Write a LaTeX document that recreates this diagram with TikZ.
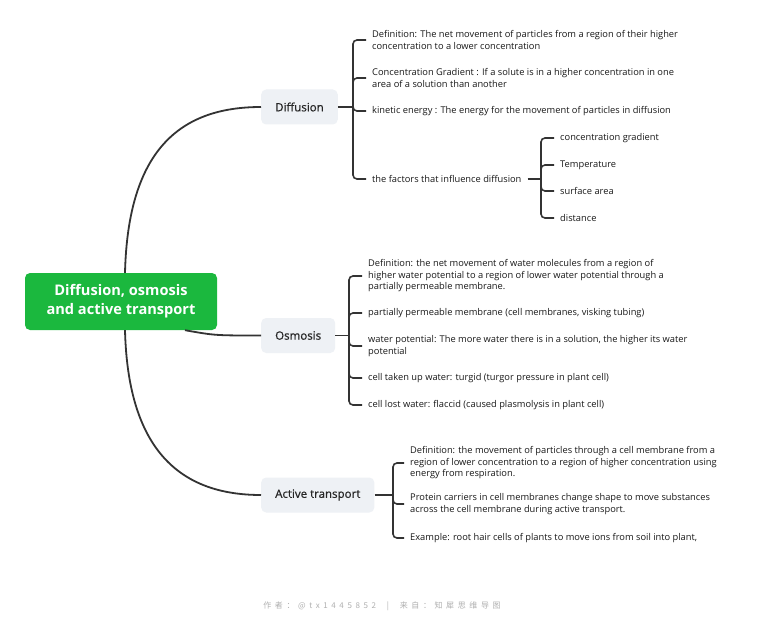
\documentclass[tikz,border=0pt]{standalone}
\usepackage{fontspec}
\setmainfont{Open Sans}
\newfontfamily\topicfont[FakeBold=0.8]{Open Sans}
\newfontfamily\cjkfont[LetterSpace=45]{Noto Sans CJK SC}
\usetikzlibrary{positioning}
\definecolor{RootGreen}{HTML}{1BB83E}
\definecolor{TopicGray}{HTML}{EEF1F5}
\definecolor{LineDark}{HTML}{333333}
\definecolor{FootGray}{HTML}{B0B0B0}
\tikzset{
  rootbox/.style={rounded corners=5pt, fill=RootGreen, text=white,
    font=\fontsize{14.6}{19}\selectfont\bfseries, align=center,
    minimum width=192pt, minimum height=57pt},
  topicbox/.style={rounded corners=5pt, fill=TopicGray, text=black!85, anchor=west,
    font=\topicfont\fontsize{11.5}{14}\selectfont, minimum height=35pt, inner xsep=14pt},
  leaf/.style={anchor=west, align=left, text=black!90,
    font=\fontsize{9.3}{11.5}\selectfont, inner xsep=6pt, inner ysep=1pt},
  mainline/.style={draw=LineDark, line width=1.8pt},
  branch/.style={draw=LineDark, line width=1.6pt, rounded corners=4pt},
}

\begin{document}
\begin{tikzpicture}[x=1pt,y=-1pt]
  \useasboundingbox[fill=white] (0,0) rectangle (768,639);

  % central topic and main topics
  \node[rootbox] (root) at (121,301.5) {Diffusion, osmosis\\and active transport};
  \node[topicbox] (dif) at (261,107) {Diffusion};
  \node[topicbox] (osm) at (261,335.5) {Osmosis};
  \node[topicbox] (act) at (261,495) {Active transport};

  \draw[mainline] ([xshift=4pt]root.north) .. controls (128,150) and (180,107) .. (dif.west);
  \draw[mainline] ([xshift=64pt]root.south) .. controls (215,335.5) .. (osm.west);
  \draw[mainline] ([xshift=4pt]root.south) .. controls (128,450) and (180,495) .. (act.west);

  % diffusion
  \node[leaf] (d1) at (366,40) {Definition: The net movement of particles from a region of their higher\\concentration to a lower concentration};
  \node[leaf] (d2) at (366,78) {Concentration Gradient : If a solute is in a higher concentration in one\\area of a solution than another};
  \node[leaf] (d3) at (366,111) {kinetic energy : The energy for the movement of particles in diffusion};
  \node[leaf] (d4) at (366,179) {the factors that influence diffusion};
  \coordinate (difj) at (353,107);
  \draw[branch] (dif.east) -- (difj);
  \foreach \n in {d1,d2,d3,d4}
    \draw[branch] (difj) |- (\n.west);

  \node[leaf] (f1) at (554,138) {concentration gradient};
  \node[leaf] (f2) at (554,165) {Temperature};
  \node[leaf] (f3) at (554,191) {surface area};
  \node[leaf] (f4) at (554,218) {distance};
  \coordinate (facj) at (541,179);
  \draw[branch] (d4.east) -- (facj);
  \foreach \n in {f1,f2,f3,f4}
    \draw[branch] (facj) |- (\n.west);

  % osmosis
  \node[leaf] (o1) at (362,276) {Definition: the net movement of water molecules from a region of\\higher water potential to a region of lower water potential through a\\partially permeable membrane.};
  \node[leaf] (o2) at (362,313) {partially permeable membrane (cell membranes, visking tubing)};
  \node[leaf] (o3) at (362,346) {water potential: The more water there is in a solution, the higher its water\\potential};
  \node[leaf] (o4) at (362,378) {cell taken up water: turgid (turgor pressure in plant cell)};
  \node[leaf] (o5) at (362,405) {cell lost water: flaccid (caused plasmolysis in plant cell)};
  \coordinate (osmj) at (349,335.5);
  \draw[branch] (osm.east) -- (osmj);
  \foreach \n in {o1,o2,o3,o4,o5}
    \draw[branch] (osmj) |- (\n.west);

  % active transport
  \node[leaf] (a1) at (404,463) {Definition: the movement of particles through a cell membrane from a\\region of lower concentration to a region of higher concentration using\\energy from respiration.};
  \node[leaf] (a2) at (404,504) {Protein carriers in cell membranes change shape to move substances\\across the cell membrane during active transport.};
  \node[leaf] (a3) at (404,538) {Example: root hair cells of plants to move ions from soil into plant,};
  \coordinate (actj) at (393,495);
  \draw[branch] (act.east) -- (actj);
  \foreach \n in {a1,a2,a3}
    \draw[branch] (actj) |- (\n.west);

  \node[font=\cjkfont\fontsize{8}{10}\selectfont, text=FootGray] (foot) at (382,606) {作者：@tx1445852 ~|~ 来自：知犀思维导图};
\end{tikzpicture}
\end{document}
